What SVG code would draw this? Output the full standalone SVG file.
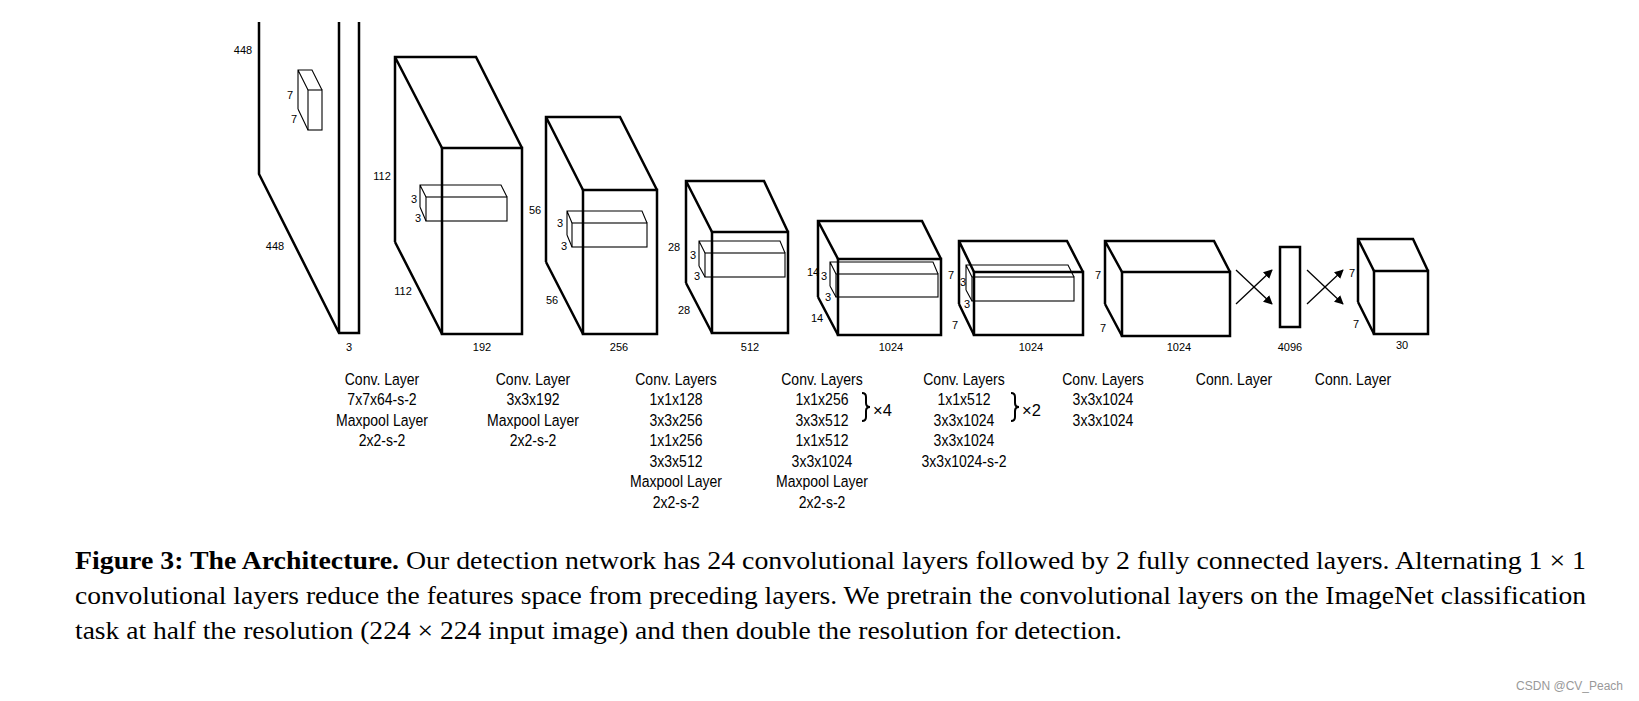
<svg xmlns="http://www.w3.org/2000/svg" width="1639" height="701" viewBox="0 0 1639 701">
<style>
.b{fill:none;stroke:#000;stroke-width:2.5;stroke-linejoin:miter}
.i{fill:none;stroke:#000;stroke-width:1.1}
.d{font-family:"Liberation Sans",Arial,sans-serif;font-size:11px;text-anchor:middle;fill:#000}
.l{font-family:"Liberation Sans",Arial,sans-serif;font-size:16.5px;text-anchor:middle;fill:#000}
.c{font-family:"Liberation Serif","Times New Roman",serif;font-size:26px;fill:#000}
</style>
<defs><marker id="ah" viewBox="0 0 10 10" refX="9" refY="5" markerWidth="9" markerHeight="9" orient="auto" markerUnits="userSpaceOnUse"><path d="M0,0 L10,5 L0,10 Z" fill="#000"/></marker></defs>
<rect width="1639" height="701" fill="#fff"/>
<g id="b1">
<path class="b" d="M259,22 V174 L339,333 H359 V22 M339,333 V22"/>
<path class="i" d="M298,109 V70 H312 L322,90 M298,109 L308,130 M298,70 L308,90"/>
<rect class="i" x="308" y="90" width="14" height="40"/>
<text class="d" x="243" y="54">448</text><text class="d" x="275" y="250">448</text>
<text class="d" x="290" y="99">7</text><text class="d" x="294" y="123">7</text><text class="d" x="349" y="351">3</text>
</g>
<g id="b2">
<path class="b" d="M395,242 V57 H476 L522,148 M395,57 L442,148 M395,242 L442,334"/>
<rect class="b" x="442" y="148" width="80" height="186"/>
<path class="i" d="M420,207 V185 H501 L507,197 M420,185 L426,197 M420,207 L426,221"/>
<rect class="i" x="426" y="197" width="81" height="24"/>
<text class="d" x="382" y="180">112</text><text class="d" x="403" y="295">112</text>
<text class="d" x="414" y="203">3</text><text class="d" x="418" y="222">3</text><text class="d" x="482" y="351">192</text>
</g>
<g id="b3">
<path class="b" d="M546,262 V117 H620 L657,190 M546,117 L583,190 M546,262 L583,334"/>
<rect class="b" x="583" y="190" width="74" height="144"/>
<path class="i" d="M567,235 V211 H642 L647,223 M567,211 L572,223 M567,235 L572,247"/>
<rect class="i" x="572" y="223" width="75" height="24"/>
<text class="d" x="535" y="214">56</text><text class="d" x="552" y="304">56</text>
<text class="d" x="560" y="227">3</text><text class="d" x="564" y="250">3</text><text class="d" x="619" y="351">256</text>
</g>
<g id="b4">
<path class="b" d="M686,283 V181 H764 L788,232 M686,181 L712,232 M686,283 L712,333"/>
<rect class="b" x="712" y="232" width="76" height="101"/>
<path class="i" d="M699,266 V241 H780 L785,253 M699,241 L705,253 M699,266 L705,277"/>
<rect class="i" x="705" y="253" width="80" height="24"/>
<text class="d" x="674" y="251">28</text><text class="d" x="684" y="314">28</text>
<text class="d" x="693" y="259">3</text><text class="d" x="697" y="280">3</text><text class="d" x="750" y="351">512</text>
</g>
<g id="b5">
<path class="b" d="M818,297 V221 H922 L941,259 M818,221 L838,259 M818,297 L838,335"/>
<rect class="b" x="838" y="259" width="103" height="76"/>
<path class="i" d="M830,286 V262 H933 L938,274 M830,262 L836,274 M830,286 L836,297"/>
<rect class="i" x="836" y="274" width="102" height="23"/>
<text class="d" x="813" y="276">14</text><text class="d" x="817" y="322">14</text>
<text class="d" x="824" y="280">3</text><text class="d" x="828" y="301">3</text><text class="d" x="891" y="351">1024</text>
</g>
<g id="b6">
<path class="b" d="M959,304 V241 H1067 L1083,272 M959,241 L974,272 M959,304 L974,335"/>
<rect class="b" x="974" y="272" width="109" height="63"/>
<path class="i" d="M966,290 V265 H1068 L1074,277 M966,265 L972,277 M966,290 L972,301"/>
<rect class="i" x="972" y="277" width="102" height="24"/>
<text class="d" x="951" y="279">7</text><text class="d" x="955" y="329">7</text>
<text class="d" x="963" y="286">3</text><text class="d" x="967" y="308">3</text><text class="d" x="1031" y="351">1024</text>
</g>
<g id="b7">
<path class="b" d="M1105,304 V241 H1214 L1230,272 M1105,241 L1122,272 M1105,304 L1122,336"/>
<rect class="b" x="1122" y="272" width="108" height="64"/>
<text class="d" x="1098" y="279">7</text><text class="d" x="1103" y="332">7</text><text class="d" x="1179" y="351">1024</text>
</g>
<g id="fc1">
<rect class="b" x="1280" y="247" width="20" height="80"/>
<text class="d" x="1290" y="351">4096</text>
</g>
<g id="b9">
<path class="b" d="M1358,302 V239 H1413 L1428,271 M1358,239 L1374,271 M1358,302 L1374,334"/>
<rect class="b" x="1374" y="271" width="54" height="63"/>
<text class="d" x="1352" y="277">7</text><text class="d" x="1356" y="328">7</text><text class="d" x="1402" y="349">30</text>
</g>
<g id="connectors" stroke="#000" stroke-width="1.3" fill="none">
<line x1="1236" y1="270" x2="1272" y2="304" marker-end="url(#ah)"/>
<line x1="1236" y1="304" x2="1272" y2="270" marker-end="url(#ah)"/>
<line x1="1307" y1="270" x2="1343" y2="304" marker-end="url(#ah)"/>
<line x1="1307" y1="304" x2="1343" y2="270" marker-end="url(#ah)"/>
</g>
<g id="labels">
<g class="l" transform="translate(382,0) scale(0.85,1)"><text x="0" y="385">Conv. Layer</text><text x="0" y="405.5">7x7x64-s-2</text><text x="0" y="426">Maxpool Layer</text><text x="0" y="446.5">2x2-s-2</text></g>
<g class="l" transform="translate(533,0) scale(0.85,1)"><text x="0" y="385">Conv. Layer</text><text x="0" y="405.5">3x3x192</text><text x="0" y="426">Maxpool Layer</text><text x="0" y="446.5">2x2-s-2</text></g>
<g class="l" transform="translate(676,0) scale(0.85,1)"><text x="0" y="385">Conv. Layers</text><text x="0" y="405.5">1x1x128</text><text x="0" y="426">3x3x256</text><text x="0" y="446.5">1x1x256</text><text x="0" y="467">3x3x512</text><text x="0" y="487.5">Maxpool Layer</text><text x="0" y="508">2x2-s-2</text></g>
<g class="l" transform="translate(822,0) scale(0.85,1)"><text x="0" y="385">Conv. Layers</text><text x="0" y="405.5">1x1x256</text><text x="0" y="426">3x3x512</text><text x="0" y="446.5">1x1x512</text><text x="0" y="467">3x3x1024</text><text x="0" y="487.5">Maxpool Layer</text><text x="0" y="508">2x2-s-2</text></g>
<g class="l" transform="translate(964,0) scale(0.85,1)"><text x="0" y="385">Conv. Layers</text><text x="0" y="405.5">1x1x512</text><text x="0" y="426">3x3x1024</text><text x="0" y="446.5">3x3x1024</text><text x="0" y="467">3x3x1024-s-2</text></g>
<g class="l" transform="translate(1103,0) scale(0.85,1)"><text x="0" y="385">Conv. Layers</text><text x="0" y="405.5">3x3x1024</text><text x="0" y="426">3x3x1024</text></g>
<g class="l" transform="translate(1234,0) scale(0.85,1)"><text x="0" y="385">Conn. Layer</text></g>
<g class="l" transform="translate(1353,0) scale(0.85,1)"><text x="0" y="385">Conn. Layer</text></g>
<text class="l" x="873" y="416" style="text-anchor:start">×4</text><text class="l" x="1022" y="416" style="text-anchor:start">×2</text>
<path d="M862,393 q4,0 4,4 v6 q0,4 4,4 q-4,0 -4,4 v6 q0,4 -4,4" fill="none" stroke="#000" stroke-width="2"/>
<path d="M1011,393 q4,0 4,4 v6 q0,4 4,4 q-4,0 -4,4 v6 q0,4 -4,4" fill="none" stroke="#000" stroke-width="2"/>
</g>
<g id="caption" class="c">
<text x="75" y="569" textLength="1511" lengthAdjust="spacingAndGlyphs"><tspan font-weight="bold">Figure 3: The Architecture.</tspan> Our detection network has 24 convolutional layers followed by 2 fully connected layers. Alternating 1 × 1</text>
<text x="75" y="604" textLength="1511" lengthAdjust="spacingAndGlyphs">convolutional layers reduce the features space from preceding layers. We pretrain the convolutional layers on the ImageNet classification</text>
<text x="75" y="639" textLength="1047" lengthAdjust="spacingAndGlyphs">task at half the resolution (224 × 224 input image) and then double the resolution for detection.</text>
</g>
<text x="1623" y="690" font-family="'Liberation Sans',Arial,sans-serif" font-size="12" fill="#999" text-anchor="end">CSDN @CV_Peach</text>
</svg>
